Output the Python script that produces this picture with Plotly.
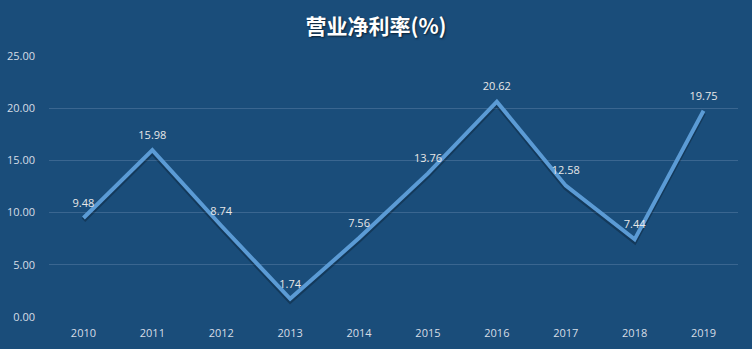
import plotly.graph_objects as go

years = ["2010", "2011", "2012", "2013", "2014", "2015", "2016", "2017", "2018", "2019"]
net_margin = [9.48, 15.98, 8.74, 1.74, 7.56, 13.76, 20.62, 12.58, 7.44, 19.75]
y_ticks = [0, 5, 10, 15, 20, 25]
y_tick_labels = ["0.00", "5.00", "10.00", "15.00", "20.00", "25.00"]
title_text = "营业净利率(%)"

bg = "#1a4d7a"
line_color = "#5b9bd5"
tick_font = dict(family="Open Sans, Noto Sans", size=11, color="#d6dde6")

fig = go.Figure()
# invisible trace keeps the primary (visible) y axis active
fig.add_trace(go.Scatter(
    x=years, y=net_margin, mode="lines",
    line=dict(color="rgba(0,0,0,0)", width=1),
    hoverinfo="skip", showlegend=False,
))
# soft shadow under the line (slightly lower)
fig.add_trace(go.Scatter(
    x=years, y=net_margin, mode="lines",
    line=dict(color="rgba(0,0,0,0.25)", width=5),
    yaxis="y2", hoverinfo="skip", showlegend=False,
))
fig.add_trace(go.Scatter(
    x=years, y=net_margin, mode="lines+markers+text",
    line=dict(color=line_color, width=4),
    marker=dict(size=12, color="rgba(0,0,0,0)"),
    text=[f"{v:.2f}" for v in net_margin],
    textposition="top center",
    textfont=dict(family="Open Sans, Noto Sans", size=11, color="#e8e8e8"),
    yaxis="y3", showlegend=False,
))

fig.update_layout(
    width=752, height=349,
    paper_bgcolor=bg, plot_bgcolor=bg,
    margin=dict(l=49, r=14, t=56, b=32),
    title=dict(
        text=title_text, x=0.5, xanchor="center", y=0.925, yanchor="middle",
        font=dict(family="Noto Sans CJK SC", size=21, color="#ffffff", weight="bold",
                  shadow="1px 1px 2px rgba(0,0,0,0.6)"),
    ),
    xaxis=dict(
        type="category", range=[-0.5, len(years) - 0.5], automargin=False,
        showgrid=False, zeroline=False, showline=False,
        tickfont=tick_font, ticks="", ticklabelstandoff=8,
    ),
    yaxis=dict(
        range=[0, 25], tickvals=y_ticks, ticktext=y_tick_labels, automargin=False,
        showgrid=True, gridcolor="#3a6690", gridwidth=1, zeroline=False,
        tickfont=tick_font, ticks="", ticklabelstandoff=13,
    ),
    yaxis2=dict(range=[0.2, 25.2], overlaying="y", visible=False),
    yaxis3=dict(range=[0, 25], overlaying="y", visible=False),
)

fig.write_html("out.html")
